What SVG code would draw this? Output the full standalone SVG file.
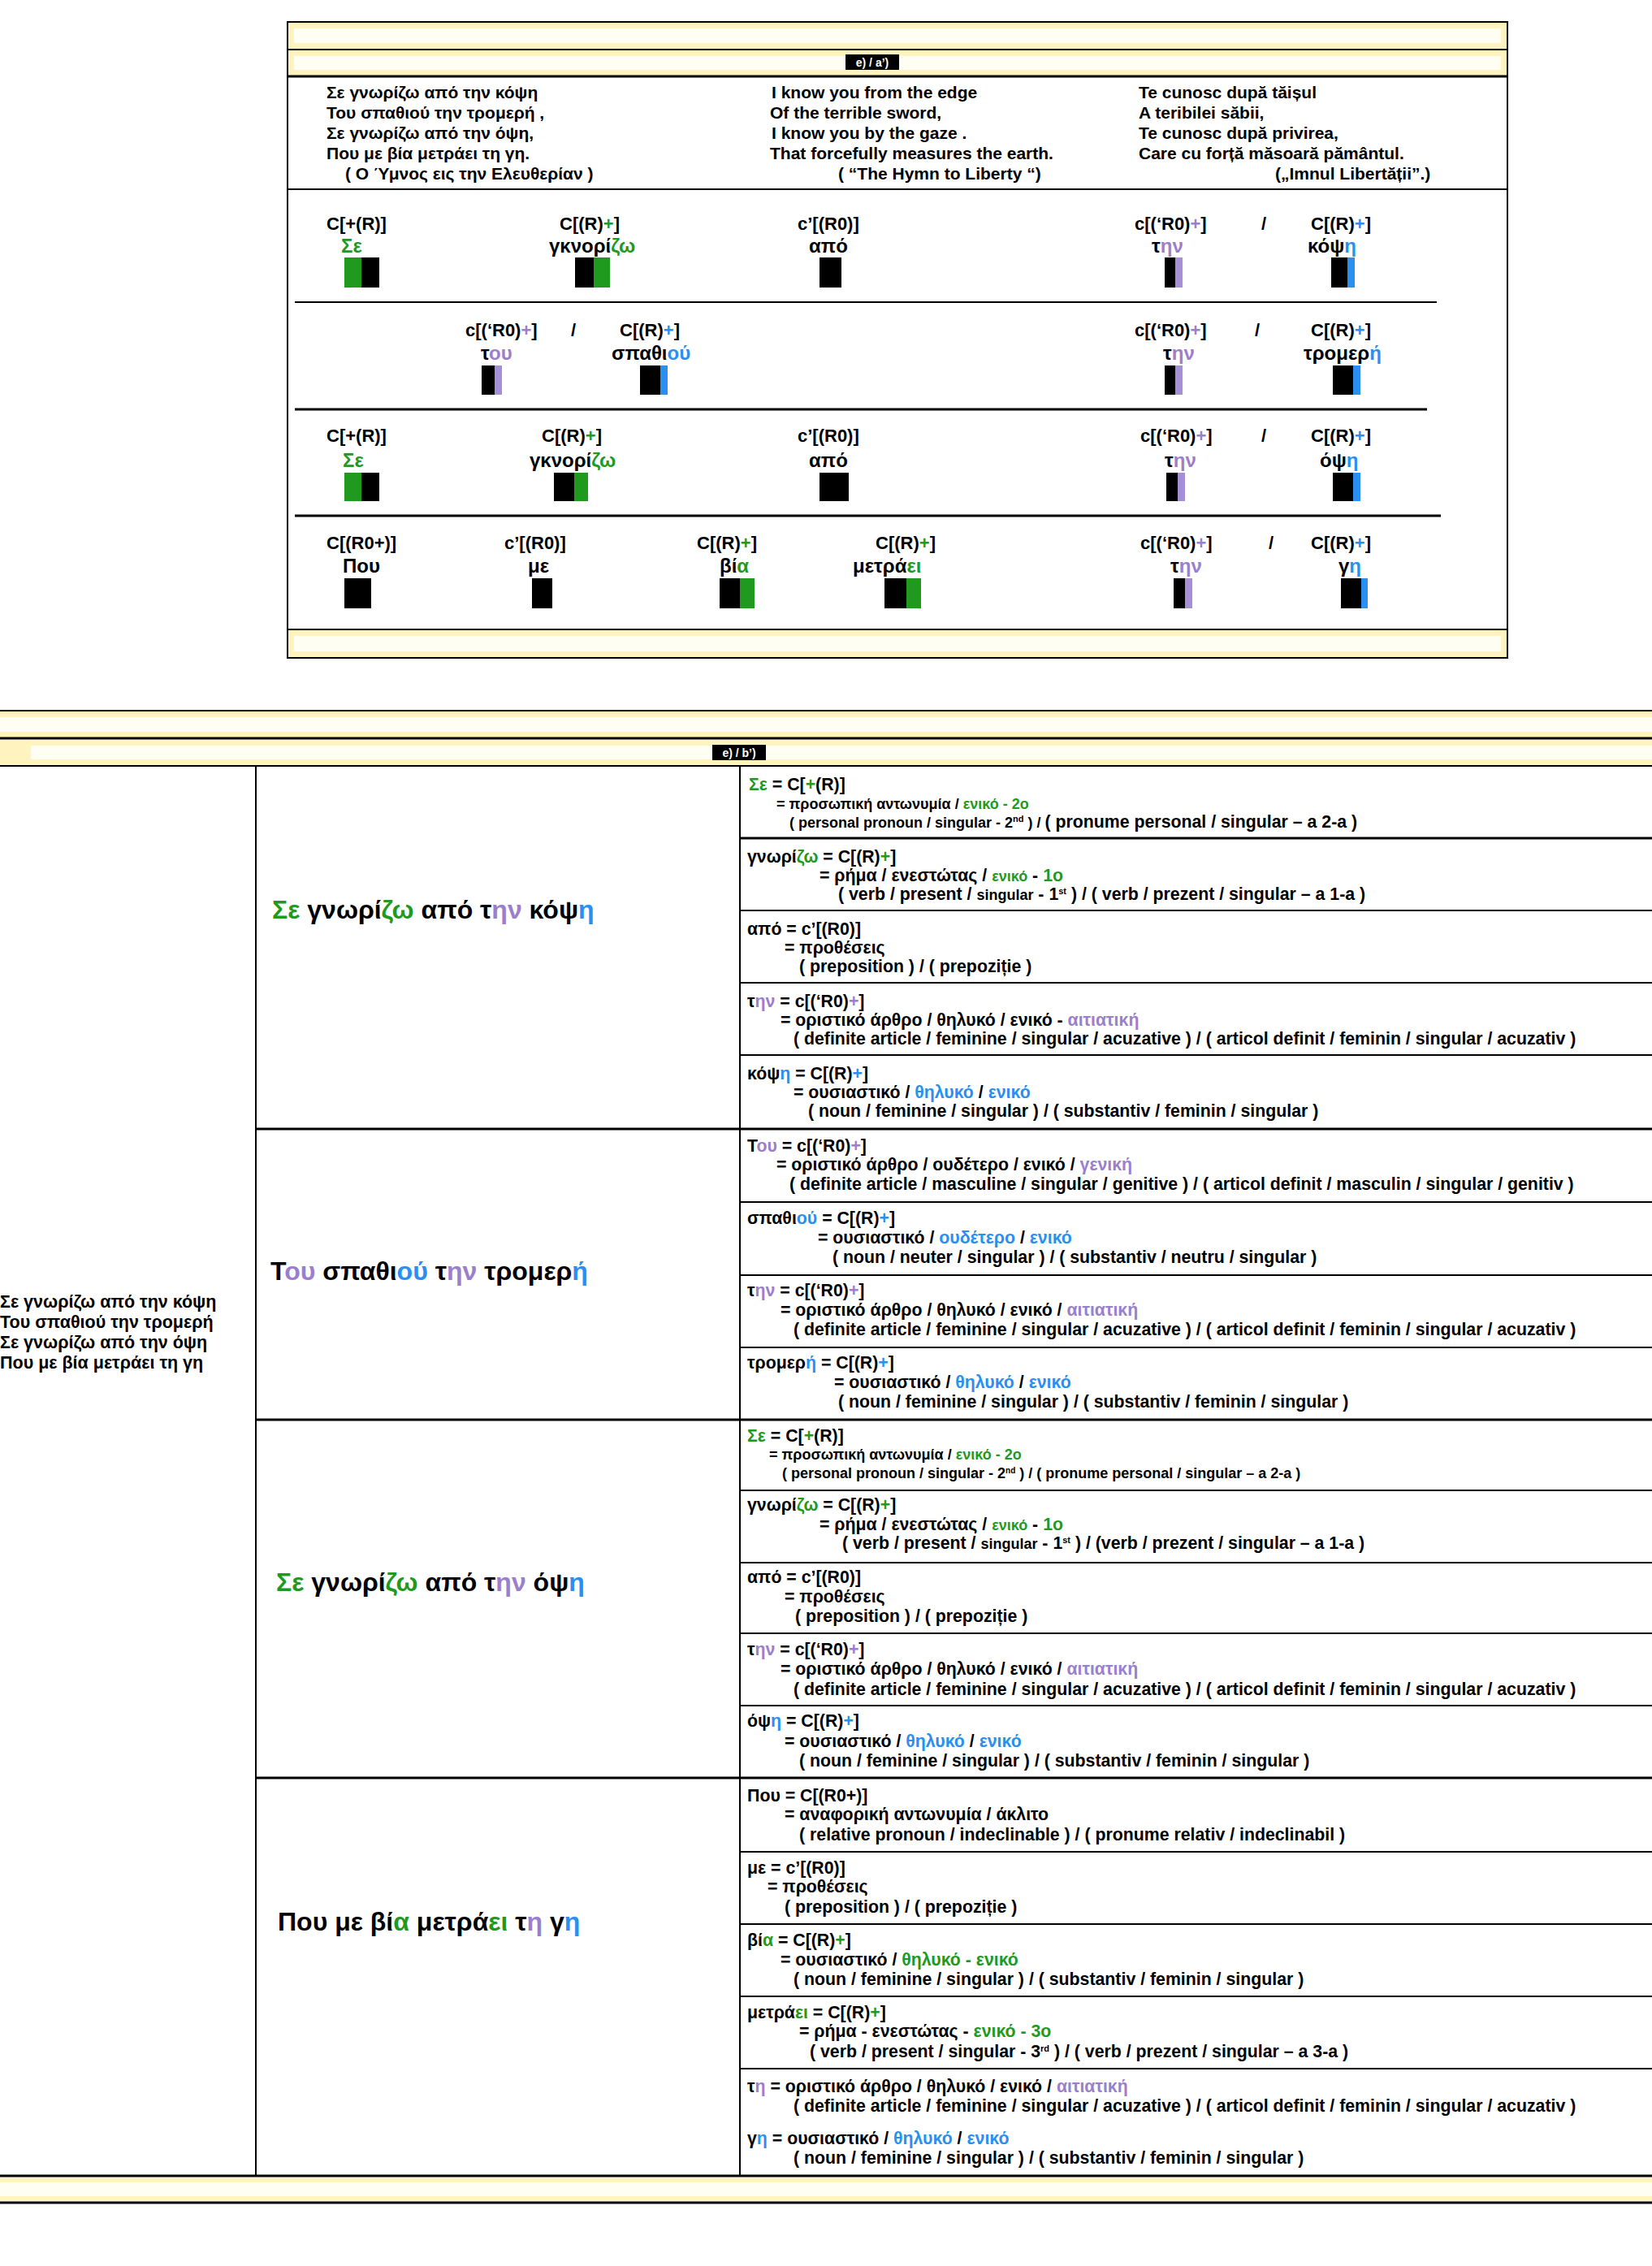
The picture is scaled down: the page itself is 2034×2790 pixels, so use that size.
<svg xmlns="http://www.w3.org/2000/svg" width="2034" height="2790" viewBox="0 0 2034 2790">
<style>
text{font-family:"Liberation Sans",Arial,sans-serif;font-weight:bold;fill:#000}
.p{font-size:21px}
.c{font-size:22px}
.w{font-size:24px}
.t{font-size:21.3px}
.lt2{font-size:21.5px}
.s{font-size:18px}
.big{font-size:32px}
.lab{font-size:14px;fill:#fff}
.g{fill:#1f9a1f}.v{fill:#9a80cc}.b{fill:#2a8ff0}
.band{fill:#fff4c0}.bandin{fill:#fffef2}
.ln{stroke:#000;stroke-width:2}
.lt{stroke:#000;stroke-width:3}
.k{fill:#000}.gr{fill:#1f9a1f}.pu{fill:#a58fd6}.bl{fill:#2a8ff0}
</style>
<g id="frameA">
<rect x="354" y="27" width="1502" height="783" fill="#fff" stroke="#000" stroke-width="2"/>
<rect class="band" x="355" y="28" width="1500" height="32"/><rect class="bandin" x="362" y="35" width="1486" height="18"/>
<line class="ln" x1="354" y1="61" x2="1856" y2="61"/>
<rect class="band" x="355" y="62" width="1500" height="31"/><rect class="bandin" x="362" y="69" width="1486" height="17"/>
<rect x="1041" y="67" width="66" height="19" fill="#000"/><text class="lab" x="1074" y="82" text-anchor="middle" style="fill:#fff">e) / a’)</text>
<line class="lt" x1="354" y1="94" x2="1856" y2="94"/>
<line class="ln" x1="354" y1="233" x2="1856" y2="233"/>
<rect class="band" x="355" y="776" width="1500" height="33"/><rect class="bandin" x="362" y="783" width="1486" height="19"/>
<line class="ln" x1="354" y1="775" x2="1856" y2="775"/>
</g>
<g id="poem">
<text class="p" x="402" y="121">Σε γνωρίζω από την κόψη</text>
<text class="p" x="402" y="146">Του σπαθιού την τρομερή ,</text>
<text class="p" x="402" y="171">Σε γνωρίζω από την όψη,</text>
<text class="p" x="402" y="196">Που με βία μετράει τη γη.</text>
<text class="p" x="425" y="221">( Ο Ύμνος εις την Ελευθερίαν )</text>
<text class="p" x="950" y="121">I know you from the edge</text>
<text class="p" x="948" y="146">Of the terrible sword,</text>
<text class="p" x="950" y="171">I know you by the gaze .</text>
<text class="p" x="948" y="196">That forcefully measures the earth.</text>
<text class="p" x="1032" y="221">( “The Hymn to Liberty “)</text>
<text class="p" x="1402" y="121">Te cunosc după tăișul</text>
<text class="p" x="1402" y="146">A teribilei săbii,</text>
<text class="p" x="1402" y="171">Te cunosc după privirea,</text>
<text class="p" x="1402" y="196">Care cu forță măsoară pământul.</text>
<text class="p" x="1570" y="221">(„Imnul Libertății”.)</text>
</g>
<g id="gridA">
<text class="c" x="402" y="283">C[+(R)]</text>
<text class="w g" x="420" y="311">Σε</text>
<rect class="gr" x="424" y="317" width="21" height="37"/><rect class="k" x="445" y="317" width="22" height="37"/>
<text class="c" x="689" y="283">C[(R)<tspan class="g">+</tspan>]</text>
<text class="w" x="676" y="311">γκνορί<tspan class="g">ζω</tspan></text>
<rect class="k" x="708" y="317" width="23" height="37"/><rect class="gr" x="731" y="317" width="20" height="37"/>
<text class="c" x="982" y="283">c’[(R0)]</text>
<text class="w" x="996" y="311">από</text>
<rect class="k" x="1009" y="317" width="27" height="37"/>
<text class="c" x="1397" y="283">c[(‘R0)<tspan class="v">+</tspan>]</text>
<text class="c" x="1553" y="283">/</text>
<text class="c" x="1614" y="283">C[(R)<tspan class="b">+</tspan>]</text>
<text class="w" x="1418" y="311">τ<tspan class="v">ην</tspan></text>
<rect class="k" x="1434" y="317" width="13" height="37"/><rect class="pu" x="1447" y="317" width="9" height="37"/>
<text class="w" x="1610" y="311">κόψ<tspan class="b">η</tspan></text>
<rect class="k" x="1639" y="317" width="20" height="37"/><rect class="bl" x="1659" y="317" width="9" height="37"/>
<line class="ln" x1="363" y1="372" x2="1769" y2="372"/>

<text class="c" x="573" y="414">c[(‘R0)<tspan class="v">+</tspan>]</text>
<text class="c" x="703" y="414">/</text>
<text class="c" x="763" y="414">C[(R)<tspan class="b">+</tspan>]</text>
<text class="w" x="592" y="443">τ<tspan class="v">ου</tspan></text>
<rect class="k" x="593" y="450" width="16" height="36"/><rect class="pu" x="609" y="450" width="9" height="36"/>
<text class="w" x="753" y="443">σπαθι<tspan class="b">ού</tspan></text>
<rect class="k" x="788" y="450" width="25" height="36"/><rect class="bl" x="813" y="450" width="9" height="36"/>
<text class="c" x="1397" y="414">c[(‘R0)<tspan class="v">+</tspan>]</text>
<text class="c" x="1545" y="414">/</text>
<text class="c" x="1614" y="414">C[(R)<tspan class="b">+</tspan>]</text>
<text class="w" x="1432" y="443">τ<tspan class="v">ην</tspan></text>
<rect class="k" x="1434" y="450" width="13" height="36"/><rect class="pu" x="1447" y="450" width="9" height="36"/>
<text class="w" x="1605" y="443">τρομερ<tspan class="b">ή</tspan></text>
<rect class="k" x="1641" y="450" width="25" height="36"/><rect class="bl" x="1666" y="450" width="9" height="36"/>
<line class="lt" x1="363" y1="504" x2="1757" y2="504"/>

<text class="c" x="402" y="544">C[+(R)]</text>
<text class="w g" x="422" y="575">Σε</text>
<rect class="gr" x="424" y="582" width="21" height="35"/><rect class="k" x="445" y="582" width="22" height="35"/>
<text class="c" x="667" y="544">C[(R)<tspan class="g">+</tspan>]</text>
<text class="w" x="652" y="575">γκνορί<tspan class="g">ζω</tspan></text>
<rect class="k" x="682" y="582" width="25" height="35"/><rect class="gr" x="707" y="582" width="17" height="35"/>
<text class="c" x="982" y="544">c’[(R0)]</text>
<text class="w" x="996" y="575">από</text>
<rect class="k" x="1009" y="582" width="36" height="35"/>
<text class="c" x="1404" y="544">c[(‘R0)<tspan class="v">+</tspan>]</text>
<text class="c" x="1553" y="544">/</text>
<text class="c" x="1614" y="544">C[(R)<tspan class="b">+</tspan>]</text>
<text class="w" x="1434" y="575">τ<tspan class="v">ην</tspan></text>
<rect class="k" x="1436" y="582" width="14" height="35"/><rect class="pu" x="1450" y="582" width="9" height="35"/>
<text class="w" x="1625" y="575">όψ<tspan class="b">η</tspan></text>
<rect class="k" x="1641" y="582" width="25" height="35"/><rect class="bl" x="1666" y="582" width="9" height="35"/>
<line class="lt" x1="363" y1="635" x2="1774" y2="635"/>

<text class="c" x="402" y="676">C[(R0+)]</text>
<text class="w" x="422" y="705">Που</text>
<rect class="k" x="424" y="712" width="33" height="37"/>
<text class="c" x="621" y="676">c’[(R0)]</text>
<text class="w" x="650" y="705">με</text>
<rect class="k" x="655" y="712" width="25" height="37"/>
<text class="c" x="858" y="676">C[(R)<tspan class="g">+</tspan>]</text>
<text class="w" x="886" y="705">βί<tspan class="g">α</tspan></text>
<rect class="k" x="886" y="712" width="25" height="37"/><rect class="gr" x="911" y="712" width="18" height="37"/>
<text class="c" x="1078" y="676">C[(R)<tspan class="g">+</tspan>]</text>
<text class="w" x="1050" y="705">μετρά<tspan class="g">ει</tspan></text>
<rect class="k" x="1089" y="712" width="27" height="37"/><rect class="gr" x="1116" y="712" width="18" height="37"/>
<text class="c" x="1404" y="676">c[(‘R0)<tspan class="v">+</tspan>]</text>
<text class="c" x="1562" y="676">/</text>
<text class="c" x="1614" y="676">C[(R)<tspan class="b">+</tspan>]</text>
<text class="w" x="1441" y="705">τ<tspan class="v">ην</tspan></text>
<rect class="k" x="1445" y="712" width="14" height="37"/><rect class="pu" x="1459" y="712" width="9" height="37"/>
<text class="w" x="1648" y="705">γ<tspan class="b">η</tspan></text>
<rect class="k" x="1651" y="712" width="25" height="37"/><rect class="bl" x="1676" y="712" width="8" height="37"/>
</g>

<g id="frameB">
<line class="ln" x1="0" y1="875" x2="2034" y2="875"/>
<rect class="band" x="0" y="876" width="2034" height="32"/><rect class="bandin" x="0" y="883" width="2034" height="18"/>
<line class="lt" x1="0" y1="909" x2="2034" y2="909"/>
<rect class="band" x="0" y="911" width="2034" height="31"/><rect class="bandin" x="38" y="918" width="1996" height="17"/>
<rect x="877" y="917" width="66" height="19" fill="#000"/><text class="lab" x="910" y="932" text-anchor="middle" style="fill:#fff">e) / b’)</text>
<line class="ln" x1="0" y1="943" x2="2034" y2="943"/>
<line class="ln" x1="315" y1="943" x2="315" y2="2678"/>
<line class="ln" x1="911" y1="943" x2="911" y2="2678"/>
<line class="lt" x1="0" y1="2679" x2="2034" y2="2679"/>
<rect class="band" x="0" y="2681" width="2034" height="29"/><rect class="bandin" x="0" y="2687" width="2034" height="17"/>
<line class="lt" x1="0" y1="2712" x2="2034" y2="2712"/>
<line class="lt" x1="315" y1="1390" x2="2034" y2="1390"/>
<line class="lt" x1="315" y1="1748" x2="2034" y2="1748"/>
<line class="lt" x1="315" y1="2189" x2="2034" y2="2189"/>
<line class="lt" x1="911" y1="1032" x2="2034" y2="1032"/>
<line class="ln" x1="911" y1="1121" x2="2034" y2="1121"/>
<line class="ln" x1="911" y1="1210" x2="2034" y2="1210"/>
<line class="ln" x1="911" y1="1299" x2="2034" y2="1299"/>
<line class="ln" x1="911" y1="1480" x2="2034" y2="1480"/>
<line class="ln" x1="911" y1="1570" x2="2034" y2="1570"/>
<line class="ln" x1="911" y1="1659" x2="2034" y2="1659"/>
<line class="ln" x1="911" y1="1835" x2="2034" y2="1835"/>
<line class="ln" x1="911" y1="1924" x2="2034" y2="1924"/>
<line class="ln" x1="911" y1="2011" x2="2034" y2="2011"/>
<line class="ln" x1="911" y1="2100" x2="2034" y2="2100"/>
<line class="ln" x1="911" y1="2280" x2="2034" y2="2280"/>
<line class="ln" x1="911" y1="2369" x2="2034" y2="2369"/>
<line class="ln" x1="911" y1="2458" x2="2034" y2="2458"/>
<line class="ln" x1="911" y1="2547" x2="2034" y2="2547"/>
</g>
<g id="leftText">
<text class="lt2" x="0" y="1610">Σε γνωρίζω από την κόψη</text>
<text class="lt2" x="0" y="1635">Του σπαθιού την τρομερή</text>
<text class="lt2" x="0" y="1660">Σε γνωρίζω από την όψη</text>
<text class="lt2" x="0" y="1685">Που με βία μετράει τη γη</text>
</g>
<g id="midText">
<text class="big" x="335" y="1131"><tspan class="g">Σε</tspan> γνωρί<tspan class="g">ζω</tspan> από τ<tspan class="v">ην</tspan> κόψ<tspan class="b">η</tspan></text>
<text class="big" x="333" y="1576">Τ<tspan class="v">ου</tspan> σπαθι<tspan class="b">ού</tspan> τ<tspan class="v">ην</tspan> τρομερ<tspan class="b">ή</tspan></text>
<text class="big" x="340" y="1959"><tspan class="g">Σε</tspan> γνωρί<tspan class="g">ζω</tspan> από τ<tspan class="v">ην</tspan> όψ<tspan class="b">η</tspan></text>
<text class="big" x="342" y="2377">Που με βί<tspan class="g">α</tspan> μετρά<tspan class="g">ει</tspan> τ<tspan class="v">η</tspan> γ<tspan class="b">η</tspan></text>
</g>
<g id="cells1">
<text class="t" x="922" y="973"><tspan class="g">Σε</tspan> = C[<tspan class="g">+</tspan>(R)]</text>
<text class="s" x="956" y="996">= προσωπική  αντωνυμία / <tspan class="g">ενικό - 2ο</tspan></text>
<text class="t" x="972" y="1019"><tspan class="s">( personal pronoun / singular - 2<tspan font-size="11" dy="-7">nd</tspan><tspan dy="7"> ) / </tspan></tspan>( pronume personal / singular – a 2-a )</text>
<text class="t" x="920" y="1062">γνωρί<tspan class="g">ζω</tspan> = C[(R)<tspan class="g">+</tspan>]</text>
<text class="t" x="1009" y="1085">= ρήμα / ενεστώτας / <tspan class="g s">ενικό</tspan> - <tspan class="g">1ο</tspan></text>
<text class="t" x="1032" y="1108">( verb / present / <tspan class="s">singular</tspan> - 1<tspan font-size="11" dy="-7">st</tspan><tspan dy="7"> ) / ( verb / prezent / singular –  a 1-a )</tspan></text>
<text class="t" x="920" y="1151">από = c’[(R0)]</text>
<text class="t" x="966" y="1174">= προθέσεις</text>
<text class="t" x="984" y="1197">( preposition ) / ( prepoziție )</text>
<text class="t" x="920" y="1240">τ<tspan class="v">ην</tspan> = c[(‘R0)<tspan class="v">+</tspan>]</text>
<text class="t" x="961" y="1263">= οριστικό άρθρο / θηλυκό / ενικό - <tspan class="v">αιτιατική</tspan></text>
<text class="t" x="977" y="1286">( definite article / feminine / singular / acuzative ) / ( articol definit / feminin / singular / acuzativ )</text>
<text class="t" x="920" y="1329">κόψ<tspan class="b">η</tspan> = C[(R)<tspan class="b">+</tspan>]</text>
<text class="t" x="977" y="1352">= ουσιαστικό / <tspan class="b">θηλυκό</tspan>  / <tspan class="b">ενικό</tspan></text>
<text class="t" x="995" y="1375">( noun / feminine / singular ) / ( substantiv / feminin / singular )</text>
</g>
<g id="cells2">
<text class="t" x="920" y="1418">Τ<tspan class="v">ου</tspan> = c[(‘R0)<tspan class="v">+</tspan>]</text>
<text class="t" x="956" y="1441">= οριστικό άρθρο / ουδέτερο / ενικό / <tspan class="v">γενική</tspan></text>
<text class="t" x="972" y="1465">( definite article / masculine / singular / genitive )  / ( articol definit / masculin / singular / genitiv )</text>
<text class="t" x="920" y="1507">σπαθι<tspan class="b">ού</tspan> = C[(R)<tspan class="b">+</tspan>]</text>
<text class="t" x="1007" y="1531">= ουσιαστικό / <tspan class="b">ουδέτερο</tspan> / <tspan class="b">ενικό</tspan></text>
<text class="t" x="1025" y="1555">( noun / neuter  / singular ) / ( substantiv / neutru / singular )</text>
<text class="t" x="920" y="1596">τ<tspan class="v">ην</tspan> = c[(‘R0)<tspan class="v">+</tspan>]</text>
<text class="t" x="961" y="1620">= οριστικό άρθρο / θηλυκό / ενικό / <tspan class="v">αιτιατική</tspan></text>
<text class="t" x="977" y="1644">( definite article / feminine / singular / acuzative ) / ( articol definit / feminin / singular / acuzativ )</text>
<text class="t" x="920" y="1685">τρομερ<tspan class="b">ή</tspan> = C[(R)<tspan class="b">+</tspan>]</text>
<text class="t" x="1027" y="1709">= ουσιαστικό / <tspan class="b">θηλυκό</tspan>  / <tspan class="b">ενικό</tspan></text>
<text class="t" x="1032" y="1733">( noun / feminine / singular ) / ( substantiv / feminin / singular )</text>
</g>
<g id="cells3">
<text class="t" x="920" y="1775"><tspan class="g">Σε</tspan> = C[<tspan class="g">+</tspan>(R)]</text>
<text class="s" x="947" y="1797">= προσωπική  αντωνυμία / <tspan class="g">ενικό - 2ο</tspan></text>
<text class="s" x="963" y="1820">( personal pronoun / singular - 2<tspan font-size="10" dy="-6">nd</tspan><tspan dy="6">  ) / ( pronume personal / singular – a 2-a )</tspan></text>
<text class="t" x="920" y="1860">γνωρί<tspan class="g">ζω</tspan> = C[(R)<tspan class="g">+</tspan>]</text>
<text class="t" x="1009" y="1884">= ρήμα / ενεστώτας / <tspan class="g s">ενικό</tspan> - <tspan class="g">1ο</tspan></text>
<text class="t" x="1037" y="1907">( verb / present / <tspan class="s">singular</tspan> - 1<tspan font-size="11" dy="-7">st</tspan><tspan dy="7"> ) / (verb / prezent / singular – a 1-a )</tspan></text>
<text class="t" x="920" y="1949">από = c’[(R0)]</text>
<text class="t" x="966" y="1973">= προθέσεις</text>
<text class="t" x="979" y="1997">( preposition )  / ( prepoziție )</text>
<text class="t" x="920" y="2038">τ<tspan class="v">ην</tspan> = c[(‘R0)<tspan class="v">+</tspan>]</text>
<text class="t" x="961" y="2062">= οριστικό άρθρο / θηλυκό / ενικό / <tspan class="v">αιτιατική</tspan></text>
<text class="t" x="977" y="2087">( definite article / feminine / singular / acuzative )  / ( articol definit / feminin / singular / acuzativ )</text>
<text class="t" x="920" y="2126">όψ<tspan class="b">η</tspan> = C[(R)<tspan class="b">+</tspan>]</text>
<text class="t" x="966" y="2151">= ουσιαστικό / <tspan class="b">θηλυκό</tspan> / <tspan class="b">ενικό</tspan></text>
<text class="t" x="984" y="2175">( noun / feminine / singular )  / ( substantiv / feminin / singular )</text>
</g>
<g id="cells4">
<text class="t" x="920" y="2218">Που = C[(R0+)]</text>
<text class="t" x="966" y="2241">= αναφορική  αντωνυμία / άκλιτο</text>
<text class="t" x="984" y="2266">( relative pronoun / indeclinable ) / ( pronume relativ / indeclinabil )</text>
<text class="t" x="920" y="2307">με = c’[(R0)]</text>
<text class="t" x="945" y="2330">= προθέσεις</text>
<text class="t" x="966" y="2355">( preposition ) / ( prepoziție )</text>
<text class="t" x="920" y="2396">βί<tspan class="g">α</tspan> = C[(R)<tspan class="g">+</tspan>]</text>
<text class="t" x="961" y="2420">= ουσιαστικό / <tspan class="g">θηλυκό - ενικό</tspan></text>
<text class="t" x="977" y="2444">( noun / feminine / singular ) / ( substantiv / feminin / singular )</text>
<text class="t" x="920" y="2485">μετρά<tspan class="g">ει</tspan> = C[(R)<tspan class="g">+</tspan>]</text>
<text class="t" x="984" y="2508">= ρήμα - ενεστώτας - <tspan class="g">ενικό - 3ο</tspan></text>
<text class="t" x="997" y="2533">( verb / present / singular - 3<tspan font-size="11" dy="-7">rd</tspan><tspan dy="7"> ) / ( verb / prezent / singular – a 3-a )</tspan></text>
<text class="t" x="920" y="2576">τ<tspan class="v">η</tspan>  = οριστικό άρθρο / θηλυκό / ενικό / <tspan class="v">αιτιατική</tspan></text>
<text class="t" x="977" y="2600">( definite article / feminine / singular / acuzative )  / ( articol definit / feminin / singular / acuzativ )</text>
<text class="t" x="920" y="2640">γ<tspan class="b">η</tspan>  =  ουσιαστικό / <tspan class="b">θηλυκό</tspan> / <tspan class="b">ενικό</tspan></text>
<text class="t" x="977" y="2664">( noun / feminine / singular ) / ( substantiv / feminin / singular )</text>
</g>
</svg>
